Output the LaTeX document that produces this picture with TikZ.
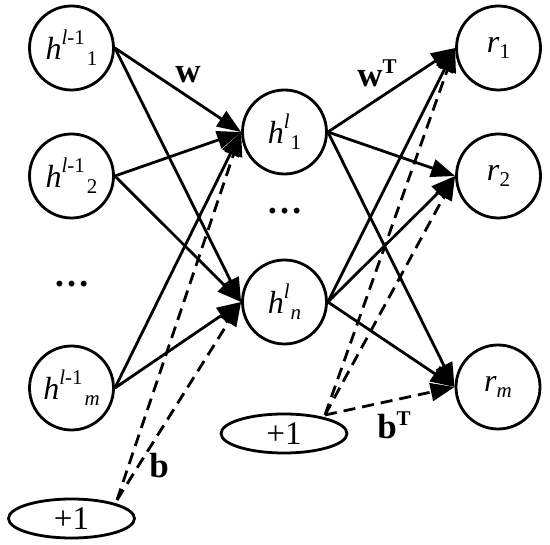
\documentclass[tikz,border=0pt]{standalone}
\usepackage{fontspec}
\setmainfont{Liberation Serif}
\usetikzlibrary{shapes.geometric,arrows.meta}
\newcommand{\nsup}[1]{\raisebox{15pt}{\fontsize{21}{21}\selectfont #1}}
\newcommand{\nsub}[1]{\raisebox{-6pt}{\fontsize{21}{21}\selectfont #1}}
\begin{document}
\begin{tikzpicture}[x=1pt,y=-1pt,
  neuron/.style={circle,draw,line width=2.8pt,minimum size=84pt,inner sep=0pt,
    font=\fontsize{32}{34}\selectfont},
  bias/.style={ellipse,draw,line width=2.8pt,minimum width=126pt,minimum height=39pt,inner sep=0pt,
    font=\fontsize{33}{34}\selectfont},
  lbl/.style={font=\fontsize{35}{36}\selectfont\bfseries,inner sep=0pt},
  dotsn/.style={font=\fontsize{36}{36}\selectfont\bfseries,inner sep=0pt},
  conn/.style={line width=2.8pt,-{Triangle[length=24pt,width=18pt]}},
  dconn/.style={conn,dash pattern=on 12pt off 7pt}]
\useasboundingbox (0,0) rectangle (550,545);
\node[neuron] (a1) at (71.5,48) {\textit{h}\nsup{\textit{l}-1}\kern2pt\nsub{1}};
\node[neuron] (a2) at (71.5,176) {\textit{h}\nsup{\textit{l}-1}\kern2pt\nsub{2}};
\node[dotsn] (d1) at (71.5,284) {\ldots};
\node[neuron] (am) at (71.5,388) {\textit{h}\nsup{\textit{l}-1}\kern2pt\nsub{\textit{m}}};
\node[neuron] (b1) at (284.5,132) {\textit{h}\nsup{\textit{l}}\kern1pt\nsub{1}};
\node[dotsn] (d2) at (284.5,211) {\ldots};
\node[neuron] (bn) at (284.5,302) {\textit{h}\nsup{\textit{l}}\kern1pt\nsub{\textit{n}}};
\node[neuron] (c1) at (498.5,48) {\textit{r}\nsub{1}};
\node[neuron] (c2) at (498.5,176) {\textit{r}\nsub{2}};
\node[neuron] (cm) at (498,387) {\textit{r}\nsub{\textit{m}}};
\node[bias] (p1) at (71.5,518.5) {+1};
\node[bias] (p2) at (284,433.5) {+1};
\coordinate (s1) at (117,500);
\coordinate (s2) at (325,415);
\node[lbl] (lw) at (188,75) {w};
\node[lbl] (lwt) at (377,73) {w\raisebox{13pt}{\fontsize{21}{21}\selectfont\bfseries T}};
\node[lbl] (lb) at (159,466) {b};
\node[lbl] (lbt) at (394,425) {b\raisebox{13pt}{\fontsize{21}{21}\selectfont\bfseries T}};
\foreach \s in {a1,a2,am}{
  \draw[conn] (\s.east) -- (b1.west);
  \draw[conn] (\s.east) -- (bn.west);
}
\foreach \s in {b1,bn}{
  \draw[conn] (\s.east) -- (c1.west);
  \draw[conn] (\s.east) -- (c2.west);
  \draw[conn] (\s.east) -- (cm.west);
}
\draw[dconn] (s1) -- (b1.west);
\draw[dconn] (s1) -- (bn.west);
\draw[dconn] (s2) -- (c1.west);
\draw[dconn] (s2) -- (c2.west);
\draw[dconn] (s2) -- (cm.west);
\end{tikzpicture}
\end{document}
